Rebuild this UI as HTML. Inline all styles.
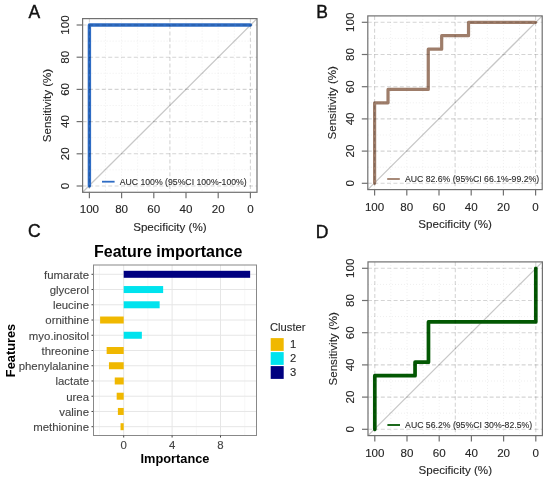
<!DOCTYPE html>
<html><head><meta charset="utf-8"><style>
html,body{margin:0;padding:0;background:#fff;}
svg{display:block;will-change:transform;}
text{font-family:"Liberation Sans", sans-serif;}
.mn{stroke:#000;stroke-opacity:0.065;stroke-width:1;stroke-dasharray:1 2;}
.mj{stroke:#000;stroke-opacity:0.17;stroke-width:1.1;stroke-dasharray:4 2.4;}
.dg{stroke:#000;stroke-opacity:0.22;stroke-width:1.3;}
.bx{fill:none;stroke:#707070;stroke-width:1.2;}
.tk{stroke:#707070;stroke-width:1.2;}
.ax{font-size:11.6px;fill:#262626;stroke:#262626;stroke-width:0.12px;}
.lg{font-size:8.7px;fill:#2a2a2a;stroke:#2a2a2a;stroke-width:0.1px;}
.pl{font-size:17.5px;fill:#111;stroke:#111;stroke-width:0.4px;}
.ct{font-size:11.4px;fill:#444;stroke:#444;stroke-width:0.12px;}
.tt{font-size:16px;font-weight:bold;fill:#000;}
.lb{font-size:12.8px;font-weight:bold;fill:#000;}
.lt{font-size:11.2px;fill:#2a2a2a;stroke:#2a2a2a;stroke-width:0.12px;}
</style></head><body>
<svg width="550" height="482" viewBox="0 0 550 482">
<rect width="550" height="482" fill="#fff"/>
<line x1="82.60" y1="192.30" x2="257.00" y2="18.60" class="dg"/>
<path d="M89.40,186.00 L89.40,25.00 L250.40,25.00" fill="none" stroke="#2e6cc4" stroke-width="3.4" stroke-linejoin="round" stroke-linecap="round" opacity="1"/>
<line x1="82.60" x2="257.00" y1="169.90" y2="169.90" class="mn"/>
<line y1="18.60" y2="192.30" x1="234.30" x2="234.30" class="mn"/>
<line y1="18.60" y2="192.30" x1="218.20" x2="218.20" class="mn"/>
<line x1="82.60" x2="257.00" y1="137.70" y2="137.70" class="mn"/>
<line y1="18.60" y2="192.30" x1="202.10" x2="202.10" class="mn"/>
<line y1="18.60" y2="192.30" x1="186.00" x2="186.00" class="mn"/>
<line x1="82.60" x2="257.00" y1="105.50" y2="105.50" class="mn"/>
<line y1="18.60" y2="192.30" x1="153.80" x2="153.80" class="mn"/>
<line x1="82.60" x2="257.00" y1="73.30" y2="73.30" class="mn"/>
<line y1="18.60" y2="192.30" x1="137.70" x2="137.70" class="mn"/>
<line y1="18.60" y2="192.30" x1="121.60" x2="121.60" class="mn"/>
<line x1="82.60" x2="257.00" y1="41.10" y2="41.10" class="mn"/>
<line y1="18.60" y2="192.30" x1="105.50" x2="105.50" class="mn"/>
<line x1="82.60" x2="257.00" y1="186.00" y2="186.00" class="mj"/>
<line x1="82.60" x2="257.00" y1="153.80" y2="153.80" class="mj"/>
<line x1="82.60" x2="257.00" y1="121.60" y2="121.60" class="mj"/>
<line x1="82.60" x2="257.00" y1="89.40" y2="89.40" class="mj"/>
<line x1="82.60" x2="257.00" y1="57.20" y2="57.20" class="mj"/>
<line x1="82.60" x2="257.00" y1="25.00" y2="25.00" class="mj"/>
<line y1="18.60" y2="192.30" x1="250.40" x2="250.40" class="mj"/>
<line y1="18.60" y2="192.30" x1="169.90" x2="169.90" class="mj"/>
<line y1="18.60" y2="192.30" x1="89.40" x2="89.40" class="mj"/>
<line x1="102.00" x2="114.60" y1="181.70" y2="181.70" stroke="#2e6cc4" stroke-width="1.8"/>
<text x="119.70" y="184.80" class="lg">AUC 100% (95%CI 100%-100%)</text>
<rect x="82.60" y="18.60" width="174.40" height="173.70" class="bx"/>
<line x1="76.60" x2="82.60" y1="186.00" y2="186.00" class="tk"/>
<text transform="translate(68.60,186.00) rotate(-90)" class="ax" text-anchor="middle">0</text>
<line y1="192.30" y2="198.30" x1="250.40" x2="250.40" class="tk"/>
<text x="250.40" y="213.20" class="ax" text-anchor="middle">0</text>
<line x1="76.60" x2="82.60" y1="153.80" y2="153.80" class="tk"/>
<text transform="translate(68.60,153.80) rotate(-90)" class="ax" text-anchor="middle">20</text>
<line y1="192.30" y2="198.30" x1="218.20" x2="218.20" class="tk"/>
<text x="218.20" y="213.20" class="ax" text-anchor="middle">20</text>
<line x1="76.60" x2="82.60" y1="121.60" y2="121.60" class="tk"/>
<text transform="translate(68.60,121.60) rotate(-90)" class="ax" text-anchor="middle">40</text>
<line y1="192.30" y2="198.30" x1="186.00" x2="186.00" class="tk"/>
<text x="186.00" y="213.20" class="ax" text-anchor="middle">40</text>
<line x1="76.60" x2="82.60" y1="89.40" y2="89.40" class="tk"/>
<text transform="translate(68.60,89.40) rotate(-90)" class="ax" text-anchor="middle">60</text>
<line y1="192.30" y2="198.30" x1="153.80" x2="153.80" class="tk"/>
<text x="153.80" y="213.20" class="ax" text-anchor="middle">60</text>
<line x1="76.60" x2="82.60" y1="57.20" y2="57.20" class="tk"/>
<text transform="translate(68.60,57.20) rotate(-90)" class="ax" text-anchor="middle">80</text>
<line y1="192.30" y2="198.30" x1="121.60" x2="121.60" class="tk"/>
<text x="121.60" y="213.20" class="ax" text-anchor="middle">80</text>
<line x1="76.60" x2="82.60" y1="25.00" y2="25.00" class="tk"/>
<text transform="translate(68.60,25.00) rotate(-90)" class="ax" text-anchor="middle">100</text>
<line y1="192.30" y2="198.30" x1="89.40" x2="89.40" class="tk"/>
<text x="89.40" y="213.20" class="ax" text-anchor="middle">100</text>
<text x="169.90" y="230.60" class="ax" text-anchor="middle">Specificity (%)</text>
<text transform="translate(51.20,105.50) rotate(-90)" class="ax" text-anchor="middle">Sensitivity (%)</text>
<line x1="367.80" y1="189.60" x2="542.20" y2="15.90" class="dg"/>
<path d="M374.60,183.30 L374.60,102.80 L388.02,102.80 L388.02,89.38 L428.27,89.38 L428.27,49.13 L441.68,49.13 L441.68,35.72 L468.52,35.72 L468.52,22.30 L535.60,22.30" fill="none" stroke="#9e7d6a" stroke-width="3.2" stroke-linejoin="round" stroke-linecap="round" opacity="1"/>
<line x1="367.80" x2="542.20" y1="167.20" y2="167.20" class="mn"/>
<line y1="15.90" y2="189.60" x1="519.50" x2="519.50" class="mn"/>
<line y1="15.90" y2="189.60" x1="503.40" x2="503.40" class="mn"/>
<line x1="367.80" x2="542.20" y1="135.00" y2="135.00" class="mn"/>
<line y1="15.90" y2="189.60" x1="487.30" x2="487.30" class="mn"/>
<line y1="15.90" y2="189.60" x1="471.20" x2="471.20" class="mn"/>
<line x1="367.80" x2="542.20" y1="102.80" y2="102.80" class="mn"/>
<line y1="15.90" y2="189.60" x1="439.00" x2="439.00" class="mn"/>
<line x1="367.80" x2="542.20" y1="70.60" y2="70.60" class="mn"/>
<line y1="15.90" y2="189.60" x1="422.90" x2="422.90" class="mn"/>
<line y1="15.90" y2="189.60" x1="406.80" x2="406.80" class="mn"/>
<line x1="367.80" x2="542.20" y1="38.40" y2="38.40" class="mn"/>
<line y1="15.90" y2="189.60" x1="390.70" x2="390.70" class="mn"/>
<line x1="367.80" x2="542.20" y1="183.30" y2="183.30" class="mj"/>
<line x1="367.80" x2="542.20" y1="151.10" y2="151.10" class="mj"/>
<line x1="367.80" x2="542.20" y1="118.90" y2="118.90" class="mj"/>
<line x1="367.80" x2="542.20" y1="86.70" y2="86.70" class="mj"/>
<line x1="367.80" x2="542.20" y1="54.50" y2="54.50" class="mj"/>
<line x1="367.80" x2="542.20" y1="22.30" y2="22.30" class="mj"/>
<line y1="15.90" y2="189.60" x1="535.60" x2="535.60" class="mj"/>
<line y1="15.90" y2="189.60" x1="455.10" x2="455.10" class="mj"/>
<line y1="15.90" y2="189.60" x1="374.60" x2="374.60" class="mj"/>
<line x1="387.20" x2="399.80" y1="179.00" y2="179.00" stroke="#9e7d6a" stroke-width="1.8"/>
<text x="404.90" y="182.10" class="lg">AUC 82.6% (95%CI 66.1%-99.2%)</text>
<rect x="367.80" y="15.90" width="174.40" height="173.70" class="bx"/>
<line x1="361.80" x2="367.80" y1="183.30" y2="183.30" class="tk"/>
<text transform="translate(353.80,183.30) rotate(-90)" class="ax" text-anchor="middle">0</text>
<line y1="189.60" y2="195.60" x1="535.60" x2="535.60" class="tk"/>
<text x="535.60" y="210.50" class="ax" text-anchor="middle">0</text>
<line x1="361.80" x2="367.80" y1="151.10" y2="151.10" class="tk"/>
<text transform="translate(353.80,151.10) rotate(-90)" class="ax" text-anchor="middle">20</text>
<line y1="189.60" y2="195.60" x1="503.40" x2="503.40" class="tk"/>
<text x="503.40" y="210.50" class="ax" text-anchor="middle">20</text>
<line x1="361.80" x2="367.80" y1="118.90" y2="118.90" class="tk"/>
<text transform="translate(353.80,118.90) rotate(-90)" class="ax" text-anchor="middle">40</text>
<line y1="189.60" y2="195.60" x1="471.20" x2="471.20" class="tk"/>
<text x="471.20" y="210.50" class="ax" text-anchor="middle">40</text>
<line x1="361.80" x2="367.80" y1="86.70" y2="86.70" class="tk"/>
<text transform="translate(353.80,86.70) rotate(-90)" class="ax" text-anchor="middle">60</text>
<line y1="189.60" y2="195.60" x1="439.00" x2="439.00" class="tk"/>
<text x="439.00" y="210.50" class="ax" text-anchor="middle">60</text>
<line x1="361.80" x2="367.80" y1="54.50" y2="54.50" class="tk"/>
<text transform="translate(353.80,54.50) rotate(-90)" class="ax" text-anchor="middle">80</text>
<line y1="189.60" y2="195.60" x1="406.80" x2="406.80" class="tk"/>
<text x="406.80" y="210.50" class="ax" text-anchor="middle">80</text>
<line x1="361.80" x2="367.80" y1="22.30" y2="22.30" class="tk"/>
<text transform="translate(353.80,22.30) rotate(-90)" class="ax" text-anchor="middle">100</text>
<line y1="189.60" y2="195.60" x1="374.60" x2="374.60" class="tk"/>
<text x="374.60" y="210.50" class="ax" text-anchor="middle">100</text>
<text x="455.10" y="227.90" class="ax" text-anchor="middle">Specificity (%)</text>
<text transform="translate(336.40,102.80) rotate(-90)" class="ax" text-anchor="middle">Sensitivity (%)</text>
<line x1="368.00" y1="435.60" x2="542.40" y2="261.90" class="dg"/>
<path d="M374.80,429.30 L374.80,375.63 L415.05,375.63 L415.05,362.22 L428.47,362.22 L428.47,321.97 L535.80,321.97 L535.80,268.30" fill="none" stroke="#035803" stroke-width="3.7" stroke-linejoin="round" stroke-linecap="round" opacity="1"/>
<line x1="368.00" x2="542.40" y1="413.20" y2="413.20" class="mn"/>
<line y1="261.90" y2="435.60" x1="519.70" x2="519.70" class="mn"/>
<line y1="261.90" y2="435.60" x1="503.60" x2="503.60" class="mn"/>
<line x1="368.00" x2="542.40" y1="381.00" y2="381.00" class="mn"/>
<line y1="261.90" y2="435.60" x1="487.50" x2="487.50" class="mn"/>
<line y1="261.90" y2="435.60" x1="471.40" x2="471.40" class="mn"/>
<line x1="368.00" x2="542.40" y1="348.80" y2="348.80" class="mn"/>
<line y1="261.90" y2="435.60" x1="439.20" x2="439.20" class="mn"/>
<line x1="368.00" x2="542.40" y1="316.60" y2="316.60" class="mn"/>
<line y1="261.90" y2="435.60" x1="423.10" x2="423.10" class="mn"/>
<line y1="261.90" y2="435.60" x1="407.00" x2="407.00" class="mn"/>
<line x1="368.00" x2="542.40" y1="284.40" y2="284.40" class="mn"/>
<line y1="261.90" y2="435.60" x1="390.90" x2="390.90" class="mn"/>
<line x1="368.00" x2="542.40" y1="429.30" y2="429.30" class="mj"/>
<line x1="368.00" x2="542.40" y1="397.10" y2="397.10" class="mj"/>
<line x1="368.00" x2="542.40" y1="364.90" y2="364.90" class="mj"/>
<line x1="368.00" x2="542.40" y1="332.70" y2="332.70" class="mj"/>
<line x1="368.00" x2="542.40" y1="300.50" y2="300.50" class="mj"/>
<line x1="368.00" x2="542.40" y1="268.30" y2="268.30" class="mj"/>
<line y1="261.90" y2="435.60" x1="535.80" x2="535.80" class="mj"/>
<line y1="261.90" y2="435.60" x1="455.30" x2="455.30" class="mj"/>
<line y1="261.90" y2="435.60" x1="374.80" x2="374.80" class="mj"/>
<line x1="387.40" x2="400.00" y1="425.00" y2="425.00" stroke="#035803" stroke-width="1.8"/>
<text x="405.10" y="428.10" class="lg">AUC 56.2% (95%CI 30%-82.5%)</text>
<rect x="368.00" y="261.90" width="174.40" height="173.70" class="bx"/>
<line x1="362.00" x2="368.00" y1="429.30" y2="429.30" class="tk"/>
<text transform="translate(354.00,429.30) rotate(-90)" class="ax" text-anchor="middle">0</text>
<line y1="435.60" y2="441.60" x1="535.80" x2="535.80" class="tk"/>
<text x="535.80" y="456.50" class="ax" text-anchor="middle">0</text>
<line x1="362.00" x2="368.00" y1="397.10" y2="397.10" class="tk"/>
<text transform="translate(354.00,397.10) rotate(-90)" class="ax" text-anchor="middle">20</text>
<line y1="435.60" y2="441.60" x1="503.60" x2="503.60" class="tk"/>
<text x="503.60" y="456.50" class="ax" text-anchor="middle">20</text>
<line x1="362.00" x2="368.00" y1="364.90" y2="364.90" class="tk"/>
<text transform="translate(354.00,364.90) rotate(-90)" class="ax" text-anchor="middle">40</text>
<line y1="435.60" y2="441.60" x1="471.40" x2="471.40" class="tk"/>
<text x="471.40" y="456.50" class="ax" text-anchor="middle">40</text>
<line x1="362.00" x2="368.00" y1="332.70" y2="332.70" class="tk"/>
<text transform="translate(354.00,332.70) rotate(-90)" class="ax" text-anchor="middle">60</text>
<line y1="435.60" y2="441.60" x1="439.20" x2="439.20" class="tk"/>
<text x="439.20" y="456.50" class="ax" text-anchor="middle">60</text>
<line x1="362.00" x2="368.00" y1="300.50" y2="300.50" class="tk"/>
<text transform="translate(354.00,300.50) rotate(-90)" class="ax" text-anchor="middle">80</text>
<line y1="435.60" y2="441.60" x1="407.00" x2="407.00" class="tk"/>
<text x="407.00" y="456.50" class="ax" text-anchor="middle">80</text>
<line x1="362.00" x2="368.00" y1="268.30" y2="268.30" class="tk"/>
<text transform="translate(354.00,268.30) rotate(-90)" class="ax" text-anchor="middle">100</text>
<line y1="435.60" y2="441.60" x1="374.80" x2="374.80" class="tk"/>
<text x="374.80" y="456.50" class="ax" text-anchor="middle">100</text>
<text x="455.30" y="473.90" class="ax" text-anchor="middle">Specificity (%)</text>
<text transform="translate(336.60,348.80) rotate(-90)" class="ax" text-anchor="middle">Sensitivity (%)</text>
<text x="28.5" y="18.2" class="pl">A</text>
<text x="316.3" y="17.8" class="pl">B</text>
<text x="28.1" y="237.3" class="pl">C</text>
<text x="315.8" y="237.9" class="pl">D</text>
<rect x="93.5" y="265.0" width="163.0" height="170.5" fill="#fff"/>
<line x1="99.50" x2="99.50" y1="265.0" y2="435.5" stroke="#f2f2f2" stroke-width="0.6"/>
<line x1="147.90" x2="147.90" y1="265.0" y2="435.5" stroke="#f2f2f2" stroke-width="0.6"/>
<line x1="196.30" x2="196.30" y1="265.0" y2="435.5" stroke="#f2f2f2" stroke-width="0.6"/>
<line x1="244.70" x2="244.70" y1="265.0" y2="435.5" stroke="#f2f2f2" stroke-width="0.6"/>
<line x1="123.70" x2="123.70" y1="265.0" y2="435.5" stroke="#e6e6e6" stroke-width="1"/>
<line x1="172.10" x2="172.10" y1="265.0" y2="435.5" stroke="#e6e6e6" stroke-width="1"/>
<line x1="220.50" x2="220.50" y1="265.0" y2="435.5" stroke="#e6e6e6" stroke-width="1"/>
<line x1="93.5" x2="256.5" y1="274.30" y2="274.30" stroke="#e6e6e6" stroke-width="1"/>
<line x1="93.5" x2="256.5" y1="289.54" y2="289.54" stroke="#e6e6e6" stroke-width="1"/>
<line x1="93.5" x2="256.5" y1="304.78" y2="304.78" stroke="#e6e6e6" stroke-width="1"/>
<line x1="93.5" x2="256.5" y1="320.02" y2="320.02" stroke="#e6e6e6" stroke-width="1"/>
<line x1="93.5" x2="256.5" y1="335.26" y2="335.26" stroke="#e6e6e6" stroke-width="1"/>
<line x1="93.5" x2="256.5" y1="350.50" y2="350.50" stroke="#e6e6e6" stroke-width="1"/>
<line x1="93.5" x2="256.5" y1="365.74" y2="365.74" stroke="#e6e6e6" stroke-width="1"/>
<line x1="93.5" x2="256.5" y1="380.98" y2="380.98" stroke="#e6e6e6" stroke-width="1"/>
<line x1="93.5" x2="256.5" y1="396.22" y2="396.22" stroke="#e6e6e6" stroke-width="1"/>
<line x1="93.5" x2="256.5" y1="411.46" y2="411.46" stroke="#e6e6e6" stroke-width="1"/>
<line x1="93.5" x2="256.5" y1="426.70" y2="426.70" stroke="#e6e6e6" stroke-width="1"/>
<rect x="123.70" y="270.80" width="126.44" height="7" fill="#000080"/>
<line x1="91.50" x2="93.5" y1="274.30" y2="274.30" stroke="#444" stroke-width="1"/>
<text x="89" y="278.70" class="ct" text-anchor="end">fumarate</text>
<rect x="123.70" y="286.04" width="39.45" height="7" fill="#00e3ee"/>
<line x1="91.50" x2="93.5" y1="289.54" y2="289.54" stroke="#444" stroke-width="1"/>
<text x="89" y="293.94" class="ct" text-anchor="end">glycerol</text>
<rect x="123.70" y="301.28" width="35.94" height="7" fill="#00e3ee"/>
<line x1="91.50" x2="93.5" y1="304.78" y2="304.78" stroke="#444" stroke-width="1"/>
<text x="89" y="309.18" class="ct" text-anchor="end">leucine</text>
<rect x="100.11" y="316.52" width="23.59" height="7" fill="#f0b800"/>
<line x1="91.50" x2="93.5" y1="320.02" y2="320.02" stroke="#444" stroke-width="1"/>
<text x="89" y="324.42" class="ct" text-anchor="end">ornithine</text>
<rect x="123.70" y="331.76" width="18.15" height="7" fill="#00e3ee"/>
<line x1="91.50" x2="93.5" y1="335.26" y2="335.26" stroke="#444" stroke-width="1"/>
<text x="89" y="339.66" class="ct" text-anchor="end">myo.inositol</text>
<rect x="106.64" y="347.00" width="17.06" height="7" fill="#f0b800"/>
<line x1="91.50" x2="93.5" y1="350.50" y2="350.50" stroke="#444" stroke-width="1"/>
<text x="89" y="354.90" class="ct" text-anchor="end">threonine</text>
<rect x="108.94" y="362.24" width="14.76" height="7" fill="#f0b800"/>
<line x1="91.50" x2="93.5" y1="365.74" y2="365.74" stroke="#444" stroke-width="1"/>
<text x="89" y="370.14" class="ct" text-anchor="end">phenylalanine</text>
<rect x="114.75" y="377.48" width="8.95" height="7" fill="#f0b800"/>
<line x1="91.50" x2="93.5" y1="380.98" y2="380.98" stroke="#444" stroke-width="1"/>
<text x="89" y="385.38" class="ct" text-anchor="end">lactate</text>
<rect x="116.68" y="392.72" width="7.02" height="7" fill="#f0b800"/>
<line x1="91.50" x2="93.5" y1="396.22" y2="396.22" stroke="#444" stroke-width="1"/>
<text x="89" y="400.62" class="ct" text-anchor="end">urea</text>
<rect x="117.89" y="407.96" width="5.81" height="7" fill="#f0b800"/>
<line x1="91.50" x2="93.5" y1="411.46" y2="411.46" stroke="#444" stroke-width="1"/>
<text x="89" y="415.86" class="ct" text-anchor="end">valine</text>
<rect x="120.55" y="423.20" width="3.15" height="7" fill="#f0b800"/>
<line x1="91.50" x2="93.5" y1="426.70" y2="426.70" stroke="#444" stroke-width="1"/>
<text x="89" y="431.10" class="ct" text-anchor="end">methionine</text>
<rect x="93.5" y="265.0" width="163.0" height="170.5" fill="none" stroke="#888" stroke-width="1"/>
<line x1="123.70" x2="123.70" y1="435.5" y2="437.5" stroke="#444" stroke-width="1"/>
<text x="123.70" y="448.5" class="ct" text-anchor="middle">0</text>
<line x1="172.10" x2="172.10" y1="435.5" y2="437.5" stroke="#444" stroke-width="1"/>
<text x="172.10" y="448.5" class="ct" text-anchor="middle">4</text>
<line x1="220.50" x2="220.50" y1="435.5" y2="437.5" stroke="#444" stroke-width="1"/>
<text x="220.50" y="448.5" class="ct" text-anchor="middle">8</text>
<text x="94" y="257.3" class="tt">Feature importance</text>
<text x="175" y="462.5" class="lb" text-anchor="middle">Importance</text>
<text transform="translate(15,350.5) rotate(-90)" class="lb" text-anchor="middle">Features</text>
<text x="270" y="330.5" class="lt">Cluster</text>
<rect x="270.7" y="338.10" width="13" height="12.8" fill="#f0b800"/>
<text x="290" y="348.40" class="lt">1</text>
<rect x="270.7" y="352.10" width="13" height="12.8" fill="#00e3ee"/>
<text x="290" y="362.40" class="lt">2</text>
<rect x="270.7" y="366.10" width="13" height="12.8" fill="#000080"/>
<text x="290" y="376.40" class="lt">3</text>
</svg></body></html>
